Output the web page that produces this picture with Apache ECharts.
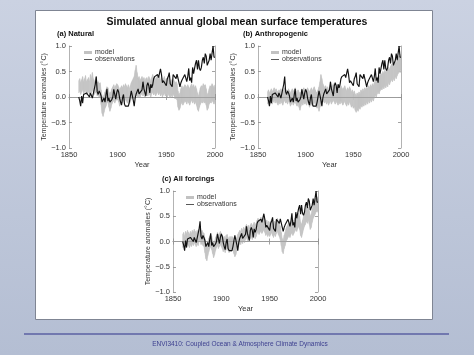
<!DOCTYPE html>
<html>
<head>
<meta charset="utf-8">
<script src="https://cdn.jsdelivr.net/npm/echarts@6/dist/echarts.min.js"></script>
<style>
html,body{margin:0;padding:0;width:474px;height:355px;overflow:hidden;}
#c{width:474px;height:355px;}
</style>
</head>
<body>
<div id="c"></div>
<script>
// ---------- DATA ----------
const startYear = 1860;
const xTicks = [1850, 1900, 1950, 2000];
const yTicks = [-1.0, -0.5, 0.0, 0.5, 1.0];
const panelTitles = ['(a) Natural', '(b) Anthropogenic', '(c) All forcings'];
const mainTitle = 'Simulated annual global mean surface temperatures';
const footer = 'ENVI3410: Coupled Ocean & Atmosphere Climate Dynamics';

// observed annual global mean temperature anomalies (°C), 1860-2000
const observations = [
  0.00,-0.07,-0.18,0.02,-0.12,0.05,0.08,0.05,0.08,0.10,
  0.06,0.00,0.08,0.05,-0.02,-0.05,-0.02,0.25,0.40,0.10,
  0.05,0.12,0.08,0.02,-0.10,-0.06,-0.02,-0.10,0.04,0.16,
  -0.08,-0.02,-0.10,-0.10,-0.05,0.00,0.15,0.15,-0.04,0.08,
  0.15,0.10,-0.02,-0.10,-0.16,-0.02,0.05,-0.14,-0.18,-0.20,
  -0.16,-0.18,-0.10,-0.08,0.12,0.15,-0.06,-0.18,-0.02,0.06,
  0.08,0.16,0.06,0.08,0.06,0.14,0.30,0.16,0.18,0.02,
  0.22,0.28,0.22,0.08,0.25,0.18,0.24,0.36,0.40,0.38,
  0.40,0.44,0.38,0.38,0.55,0.44,0.28,0.32,0.32,0.30,
  0.22,0.36,0.40,0.48,0.26,0.26,0.20,0.44,0.46,0.42,
  0.36,0.45,0.42,0.44,0.20,0.28,0.33,0.36,0.30,0.44,
  0.42,0.30,0.40,0.56,0.32,0.38,0.28,0.58,0.46,0.56,
  0.66,0.72,0.54,0.72,0.56,0.52,0.58,0.72,0.78,0.66,
  0.85,0.80,0.62,0.62,0.72,0.85,0.72,0.86,1.00,0.78,
  0.78
];

// (a) natural forcing: model ensemble range
const naturalLow = [
  0.08,0.12,0.05,0.10,0.14,0.06,0.10,0.12,0.04,0.08,
  0.10,0.06,0.12,0.08,0.14,0.10,0.05,0.08,0.12,0.02,
  0.04,0.00,0.02,-0.15,-0.32,-0.38,-0.30,-0.22,-0.18,-0.10,
  -0.12,-0.20,-0.28,-0.22,-0.14,-0.10,-0.06,-0.12,-0.08,-0.04,
  -0.06,-0.10,-0.18,-0.14,-0.08,-0.12,-0.06,-0.10,-0.04,-0.08,
  -0.12,-0.06,-0.14,-0.10,-0.04,-0.02,0.00,-0.04,0.02,0.04,
  0.02,-0.02,0.04,0.00,0.04,0.08,0.02,0.06,0.00,0.04,
  0.06,0.02,0.08,0.04,0.00,0.06,0.10,0.04,0.08,0.02,
  0.06,0.10,0.04,0.08,0.02,0.06,0.00,0.04,0.08,0.02,
  0.04,0.00,0.06,0.02,-0.02,0.04,0.00,0.06,0.02,-0.04,
  -0.02,-0.06,-0.20,-0.26,-0.22,-0.14,-0.10,-0.16,-0.12,-0.08,
  -0.10,-0.14,-0.08,-0.12,-0.16,-0.10,-0.06,-0.12,-0.08,-0.14,
  -0.10,-0.16,-0.24,-0.28,-0.20,-0.14,-0.10,-0.12,-0.08,-0.12,
  -0.10,-0.16,-0.26,-0.22,-0.14,-0.10,-0.12,-0.06,-0.10,-0.14,
  -0.08
];
const naturalHigh = [
  0.32,0.36,0.28,0.34,0.40,0.30,0.36,0.42,0.30,0.34,
  0.38,0.30,0.44,0.36,0.48,0.36,0.30,0.34,0.40,0.28,
  0.30,0.26,0.28,0.14,0.02,-0.04,0.04,0.10,0.14,0.20,
  0.18,0.10,0.06,0.10,0.16,0.20,0.24,0.18,0.22,0.26,
  0.24,0.20,0.14,0.18,0.22,0.18,0.24,0.20,0.26,0.22,
  0.18,0.24,0.16,0.22,0.28,0.32,0.36,0.40,0.52,0.62,
  0.48,0.36,0.40,0.32,0.36,0.40,0.34,0.38,0.30,0.36,
  0.38,0.32,0.40,0.36,0.30,0.38,0.44,0.36,0.40,0.34,
  0.38,0.44,0.34,0.40,0.32,0.38,0.30,0.36,0.40,0.32,
  0.36,0.30,0.38,0.32,0.28,0.34,0.30,0.36,0.32,0.28,
  0.30,0.26,0.12,0.04,0.08,0.16,0.22,0.16,0.20,0.24,
  0.22,0.18,0.24,0.20,0.16,0.22,0.26,0.20,0.24,0.18,
  0.22,0.16,0.08,0.02,0.10,0.18,0.22,0.20,0.26,0.22,
  0.24,0.16,0.04,0.08,0.16,0.22,0.20,0.26,0.22,0.18,
  0.24
];

// (b) anthropogenic forcing: model ensemble range
const anthroLow = [
  -0.14,-0.10,-0.16,-0.12,-0.08,-0.14,-0.10,-0.06,-0.12,-0.08,
  -0.12,-0.16,-0.10,-0.14,-0.08,-0.12,-0.16,-0.10,-0.06,-0.12,
  -0.10,-0.14,-0.08,-0.12,-0.18,-0.14,-0.10,-0.16,-0.12,-0.08,
  -0.14,-0.18,-0.12,-0.20,-0.26,-0.18,-0.12,-0.16,-0.10,-0.14,
  -0.12,-0.16,-0.10,-0.14,-0.20,-0.16,-0.12,-0.18,-0.14,-0.10,
  -0.14,-0.18,-0.22,-0.16,-0.28,-0.20,-0.14,-0.10,-0.06,-0.10,
  -0.12,-0.08,-0.14,-0.10,-0.16,-0.12,-0.08,-0.14,-0.10,-0.06,
  -0.10,-0.14,-0.08,-0.12,-0.16,-0.10,-0.14,-0.08,-0.12,-0.16,
  -0.12,-0.08,-0.14,-0.18,-0.12,-0.16,-0.10,-0.14,-0.20,-0.16,
  -0.22,-0.18,-0.26,-0.30,-0.24,-0.28,-0.20,-0.24,-0.16,-0.20,
  -0.14,-0.18,-0.12,-0.16,-0.10,-0.14,-0.08,-0.12,-0.06,-0.10,
  -0.04,-0.08,-0.02,0.04,0.00,0.06,0.10,0.06,0.12,0.16,
  0.14,0.20,0.16,0.22,0.18,0.24,0.20,0.28,0.24,0.30,
  0.34,0.30,0.36,0.32,0.40,0.36,0.42,0.46,0.50,0.48,
  0.54
];
const anthroHigh = [
  0.10,0.14,0.08,0.12,0.16,0.10,0.14,0.18,0.12,0.16,
  0.12,0.08,0.14,0.10,0.16,0.12,0.08,0.14,0.18,0.12,
  0.14,0.10,0.16,0.12,0.08,0.12,0.16,0.10,0.14,0.18,
  0.12,0.08,0.14,0.10,0.06,0.10,0.16,0.12,0.18,0.14,
  0.16,0.12,0.18,0.14,0.10,0.14,0.18,0.12,0.16,0.20,
  0.14,0.10,0.08,0.14,0.20,0.30,0.44,0.36,0.26,0.22,
  0.18,0.22,0.16,0.20,0.14,0.18,0.24,0.18,0.22,0.26,
  0.20,0.16,0.22,0.18,0.14,0.20,0.16,0.22,0.18,0.14,
  0.18,0.22,0.16,0.12,0.18,0.14,0.20,0.16,0.10,0.14,
  0.08,0.12,0.06,0.02,0.08,0.04,0.10,0.06,0.14,0.10,
  0.16,0.12,0.18,0.14,0.20,0.16,0.22,0.18,0.24,0.20,
  0.26,0.22,0.28,0.34,0.30,0.36,0.40,0.36,0.42,0.46,
  0.44,0.50,0.46,0.52,0.48,0.54,0.50,0.58,0.54,0.60,
  0.64,0.60,0.66,0.62,0.70,0.66,0.72,0.76,0.80,0.78,
  0.84
];

// (c) all forcings: model ensemble range
const allLow = [
  -0.12,-0.08,-0.14,-0.06,-0.10,-0.04,-0.08,-0.12,-0.06,-0.10,
  -0.04,-0.08,-0.02,-0.06,-0.10,-0.04,-0.08,0.00,0.04,-0.06,
  -0.04,-0.08,-0.10,-0.22,-0.34,-0.38,-0.28,-0.20,-0.14,-0.10,
  -0.16,-0.24,-0.32,-0.26,-0.18,-0.12,-0.08,-0.14,-0.10,-0.06,
  -0.10,-0.14,-0.20,-0.16,-0.22,-0.16,-0.12,-0.18,-0.22,-0.16,
  -0.20,-0.14,-0.18,-0.24,-0.30,-0.26,-0.18,-0.12,-0.08,-0.04,
  -0.06,0.00,-0.04,0.02,-0.02,0.04,0.08,0.02,0.06,0.00,
  0.06,0.10,0.04,0.08,0.12,0.06,0.10,0.16,0.20,0.14,
  0.18,0.22,0.16,0.20,0.24,0.18,0.12,0.16,0.10,0.14,
  0.10,0.14,0.18,0.12,0.08,0.14,0.10,0.16,0.20,0.14,
  0.10,0.04,-0.08,-0.20,-0.24,-0.14,-0.08,0.00,0.04,0.08,
  0.12,0.08,0.14,0.18,0.12,0.16,0.20,0.24,0.20,0.26,
  0.30,0.24,0.12,0.08,0.16,0.24,0.30,0.34,0.40,0.36,
  0.42,0.34,0.24,0.28,0.38,0.46,0.50,0.54,0.60,0.58,
  0.62
];
const allHigh = [
  0.14,0.18,0.10,0.20,0.16,0.22,0.18,0.14,0.20,0.16,
  0.22,0.18,0.24,0.20,0.16,0.22,0.18,0.26,0.30,0.20,
  0.22,0.18,0.16,0.06,-0.04,-0.08,0.00,0.06,0.10,0.14,
  0.10,0.02,-0.04,0.00,0.08,0.12,0.18,0.12,0.16,0.20,
  0.16,0.12,0.08,0.10,0.06,0.12,0.14,0.08,0.04,0.10,
  0.06,0.10,0.08,0.02,-0.02,0.02,0.08,0.14,0.18,0.22,
  0.20,0.26,0.22,0.28,0.24,0.30,0.34,0.28,0.32,0.26,
  0.32,0.36,0.30,0.34,0.38,0.32,0.36,0.42,0.46,0.40,
  0.44,0.48,0.42,0.46,0.50,0.44,0.38,0.42,0.36,0.40,
  0.36,0.40,0.44,0.38,0.34,0.40,0.36,0.42,0.46,0.40,
  0.36,0.30,0.18,0.06,0.02,0.12,0.18,0.26,0.30,0.34,
  0.38,0.34,0.40,0.44,0.38,0.42,0.46,0.50,0.46,0.52,
  0.56,0.50,0.38,0.34,0.42,0.50,0.56,0.60,0.66,0.62,
  0.68,0.60,0.50,0.54,0.64,0.72,0.76,0.80,0.86,0.84,
  0.88
];

// ---------- CHART ----------
const FONT = '"Liberation Sans", Arial, Helvetica, sans-serif';
const BAND = '#c2c2c2';
const panels = [
  {lo: naturalLow, hi: naturalHigh, grid: {left: 69, top: 46, width: 146, height: 102}, title: [57, 30], legend: [84, 49]},
  {lo: anthroLow, hi: anthroHigh, grid: {left: 258, top: 46, width: 143, height: 102}, title: [243, 30], legend: [271, 49]},
  {lo: allLow, hi: allHigh, grid: {left: 173, top: 191, width: 145, height: 101}, title: [162, 175], legend: [186, 194]}
];

function fmtY(v) {
  return (v < 0 ? '\u2212' : '') + Math.abs(v).toFixed(1);
}

const grids = [], xAxes = [], yAxes = [], series = [], legends = [];
const tickStyle = {show: true, inside: true, length: 3, lineStyle: {color: '#8c8c8c', width: 0.8}};
const lineStyleAx = {show: true, lineStyle: {color: '#a0a0a0', width: 0.8}};

function bandRender(params, api) {
  const p0 = api.coord([api.value(0), api.value(1)]);
  const p1 = api.coord([api.value(0), api.value(2)]);
  const p2 = api.coord([api.value(3), api.value(5)]);
  const p3 = api.coord([api.value(3), api.value(4)]);
  return {
    type: 'polygon',
    shape: {points: [p0, p1, p2, p3]},
    style: {fill: BAND, stroke: BAND, lineWidth: 0.5}
  };
}

panels.forEach((p, i) => {
  grids.push(Object.assign({containLabel: false}, p.grid));
  const xBase = {type: 'value', gridIndex: i, min: xTicks[0], max: xTicks[xTicks.length - 1], interval: 50,
    splitLine: {show: false}, axisLine: lineStyleAx, axisTick: tickStyle};
  xAxes.push(Object.assign({}, xBase, {position: 'bottom', name: 'Year', nameLocation: 'middle', nameGap: 13,
    nameTextStyle: {fontFamily: FONT, fontSize: 7.5, color: '#333'},
    axisLabel: {fontFamily: FONT, fontSize: 7.5, color: '#333', margin: 3, formatter: v => String(v)}}));
  xAxes.push(Object.assign({}, xBase, {position: 'top', axisLabel: {show: false}}));
  const yBase = {type: 'value', gridIndex: i, min: yTicks[0], max: yTicks[yTicks.length - 1], interval: 0.5,
    splitLine: {show: false}, axisLine: lineStyleAx, axisTick: tickStyle};
  yAxes.push(Object.assign({}, yBase, {position: 'left', name: 'Temperature anomalies (\u00B0C)', nameLocation: 'middle',
    nameGap: 19, nameRotate: 90, nameTextStyle: {fontFamily: FONT, fontSize: 7, color: '#333'},
    axisLabel: {fontFamily: FONT, fontSize: 7.5, color: '#333', margin: 3, formatter: fmtY}}));
  yAxes.push(Object.assign({}, yBase, {position: 'right', axisLabel: {show: false}}));

  // band segments: [year, lo, hi, nextYear, nextLo, nextHi]
  const bandData = [];
  for (let k = 0; k < p.lo.length - 1; k++) {
    bandData.push([startYear + k, p.lo[k], p.hi[k], startYear + k + 1, p.lo[k + 1], p.hi[k + 1]]);
  }
  const obsData = observations.map((v, k) => [startYear + k, v]);
  series.push({
    name: 'model', type: 'custom', xAxisIndex: 2 * i, yAxisIndex: 2 * i, data: bandData,
    renderItem: bandRender, encode: {x: [0, 3], y: [1, 2, 4, 5]}, itemStyle: {color: BAND},
    silent: true, z: 2, clip: true
  });
  series.push({
    name: 'observations', type: 'line', xAxisIndex: 2 * i, yAxisIndex: 2 * i, data: obsData,
    symbol: 'none', itemStyle: {color: '#111'}, lineStyle: {width: 1.15, color: '#111'}, z: 4,
    markLine: {silent: true, symbol: 'none', label: {show: false}, animation: false, z: 3,
      lineStyle: {color: '#9a9a9a', width: 0.8, type: 'solid'}, data: [{yAxis: 0}]}
  });
  legends.push({
    left: p.legend[0], top: p.legend[1], orient: 'vertical', itemGap: 0, itemWidth: 8, itemHeight: 3,
    padding: 0, selectedMode: false,
    textStyle: {fontFamily: FONT, fontSize: 7, color: '#333', padding: [0, 0, 0, -2]},
    data: [{name: 'model', icon: 'rect', itemStyle: {color: BAND}},
           {name: 'observations', icon: 'path://M0,0H16V1.4H0Z', itemStyle: {color: '#111'}}]
  });
});

const graphics = [
  {type: 'rect', left: 35, top: 10, shape: {width: 397, height: 309},
    style: {fill: '#ffffff', stroke: '#7f8593', lineWidth: 1}, z: -10},
  {type: 'line', shape: {x1: 24, y1: 334, x2: 449, y2: 334},
    style: {stroke: '#5b60a3', lineWidth: 1.5}, z: -10},
  {type: 'text', left: 'center', top: 17, style: {text: mainTitle, font: 'bold 10.5px ' + FONT, fill: '#111'}},
  {type: 'text', x: 240, y: 344, style: {text: footer, font: '6.5px ' + FONT, fill: '#3c3f8f', align: 'center', verticalAlign: 'middle'}}
];
panels.forEach((p, i) => {
  graphics.push({type: 'text', x: p.title[0], y: p.title[1],
    style: {text: panelTitles[i], font: 'bold 7.5px ' + FONT, fill: '#111'}});
});

const chart = echarts.init(document.getElementById('c'), null, {renderer: 'canvas'});
chart.setOption({
  animation: false,
  backgroundColor: {type: 'linear', x: 0, y: 0, x2: 0, y2: 1,
    colorStops: [{offset: 0, color: '#cbd2e2'}, {offset: 1, color: '#b4bed3'}]},
  grid: grids, xAxis: xAxes, yAxis: yAxes, series: series, legend: legends, graphic: graphics
});
</script>
</body>
</html>
